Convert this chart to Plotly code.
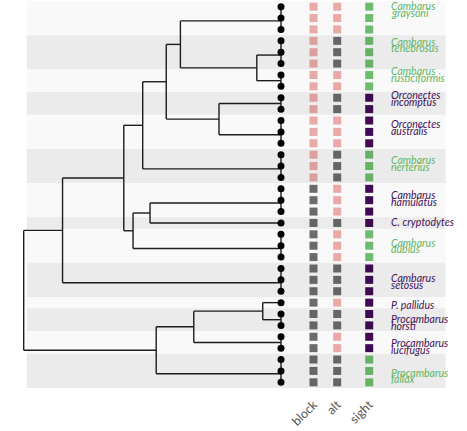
import plotly.graph_objects as go

# ---------------- data ----------------
species = ["Cambarus<br>graysoni", "Cambarus<br>tenebrosus", "Cambarus<br>rusticiformis",
           "Orconectes<br>incomptus", "Orconectes<br>australis", "Cambarus<br>nerterius",
           "Cambarus<br>hamulatus", "C. cryptodytes", "Cambarus<br>dubius",
           "Cambarus<br>setosus", "P. pallidus", "Procambarus<br>horsti",
           "Procambarus<br>lucifugus", "Procambarus<br>fallax"]
n_samples = [3, 3, 2, 2, 3, 3, 3, 1, 3, 3, 1, 2, 2, 3]
species_parent = ["E", "F", "F", "G", "G", "C", "I", "I", "H", "A", "L", "L", "K", "J"]

node_names = ["root", "A", "B", "C", "D", "E", "F", "G", "H", "I", "J", "K", "L"]
node_parent = [None, "root", "A", "B", "C", "D", "E", "D", "B", "H", "root", "J", "K"]
node_depth = [0.0, 0.151, 0.389, 0.4625, 0.554, 0.609, 0.906, 0.759, 0.425, 0.491, 0.515, 0.661, 0.929]
tip_depth = 1.0

trait_names = ["block", "alt", "sight"]
block = [0] * 16 + [1] * 18
alt = ([0] * 3 + [1] * 3 + [0] * 2 + [1] * 2 + [0] * 3 + [1] * 3 + [0] * 3 + [1] * 1 +
       [0] * 3 + [1] * 3 + [0] * 1 + [1] * 2 + [0] * 2 + [1] * 3)
sight = [0] * 8 + [1] * 5 + [0] * 3 + [1] * 4 + [0] * 3 + [1] * 8 + [0] * 3

# ---------------- styles / layout constants ----------------
W, H = 467, 431
PINK, GRAY, GREEN, PURPLE = "#efaeaa", "#6e6e6e", "#70c070", "#430b57"
trait_colors = [{0: PINK, 1: GRAY}, {0: PINK, 1: GRAY}, {0: GREEN, 1: PURPLE}]
label_colors = {0: "#62b562", 1: "#421258"}
trait_slot = [0.0, 1.0, 2.35]
LINE = "#1e1e1e"

# ---------------- tree geometry ----------------
rows_of = []
start = 0
for n in n_samples:
    rows_of.append(list(range(start, start + n)))
    start += n
n_rows = start

sp_y = []
for rows in rows_of:
    y = rows[0]
    for r in rows[1:]:
        y = (y + r) / 2
    sp_y.append(y)

children = {nm: [] for nm in node_names}
for i, p in enumerate(species_parent):
    children[p].append(("sp", i))
for nm, p in zip(node_names, node_parent):
    if p is not None:
        children[p].append(("node", nm))
depth_of = dict(zip(node_names, node_depth))

node_y = {}
def get_y(kind, key):
    if kind == "sp":
        return sp_y[key]
    if key not in node_y:
        ys_ = [get_y(k, c) for k, c in children[key]]
        node_y[key] = sum(ys_) / len(ys_)
    return node_y[key]

xs, ys = [], []
for nm in node_names:
    d = depth_of[nm]
    cys = [get_y(k, c) for k, c in children[nm]]
    xs += [d, d, None]
    ys += [min(cys), max(cys), None]
    for k, c in children[nm]:
        cd = tip_depth if k == "sp" else depth_of[c]
        cy = get_y(k, c)
        xs += [d, cd, None]
        ys += [cy, cy, None]
for rows in rows_of:
    if len(rows) > 1:
        xs += [tip_depth, tip_depth, None]
        ys += [rows[0], rows[-1], None]

fig = go.Figure()
fig.add_trace(go.Scatter(x=xs, y=ys, mode="lines", line=dict(color=LINE, width=1.4),
                         hoverinfo="skip", showlegend=False))
fig.add_trace(go.Scatter(x=[tip_depth] * n_rows, y=list(range(n_rows)), mode="markers",
                         marker=dict(color="black", size=7), showlegend=False))

for j, vals in enumerate([block, alt, sight]):
    fig.add_trace(go.Scatter(
        x=[trait_slot[j]] * n_rows, y=list(range(n_rows)), mode="markers",
        marker=dict(symbol="square", size=8, color=[trait_colors[j][v] for v in vals],
                    line=dict(width=0)),
        xaxis="x2", yaxis="y", showlegend=False))

# background bands (drawn on top, translucent)
shapes = []
for i, rows in enumerate(rows_of):
    shapes.append(dict(type="rect", xref="paper", yref="y", x0=26.7 / W, x1=445.7 / W,
                       y0=rows[0] - 0.5, y1=rows[-1] + 0.5, layer="above", line=dict(width=0),
                       fillcolor="rgba(0,0,0,0.024)" if i % 2 == 0 else "rgba(0,0,0,0.078)"))

annotations = []
for i, (lab, rows) in enumerate(zip(species, rows_of)):
    center = (rows[0] + rows[-1]) / 2
    col = label_colors[sight[rows[0]]]
    parts = lab.split("<br>")
    shifts = [0] if len(parts) == 1 else [3.4, -3.2]
    for txt, sh in zip(parts, shifts):
        annotations.append(dict(x=389 / W, xref="paper", y=center, yref="y2", text=txt,
                                xanchor="left", yanchor="middle", showarrow=False, yshift=sh,
                                font=dict(family="Lato", size=10.5, color=col, style="italic")))

tip_px, root_px = 281.0, 23.7
scale = (tip_px - root_px)
x0 = -root_px / scale
slot_px = 23.7
s0 = 313.5
fig.update_layout(
    width=W, height=H, margin=dict(l=0, r=0, t=1, b=43),
    paper_bgcolor="white", plot_bgcolor="white",
    xaxis=dict(range=[x0, x0 + W / scale], visible=False, fixedrange=True),
    xaxis2=dict(range=[-s0 / slot_px, (W - s0) / slot_px], overlaying="x", anchor="y",
                tickmode="array", tickvals=trait_slot, ticktext=trait_names, tickangle=-45,
                showgrid=False, zeroline=False, showline=False, ticks="",
                ticklabelstandoff=6,
                tickfont=dict(family="Lato", size=12.5, color="#555555")),
    yaxis=dict(range=[n_rows - 0.5, -0.5], visible=False),
    yaxis2=dict(range=[33.014, 0.2624], overlaying="y", visible=False),
    shapes=shapes, annotations=annotations,
)
fig.write_html("out.html", config={"displayModeBar": False},
               post_script="document.body.style.margin='0';document.body.style.overflow='hidden';")
